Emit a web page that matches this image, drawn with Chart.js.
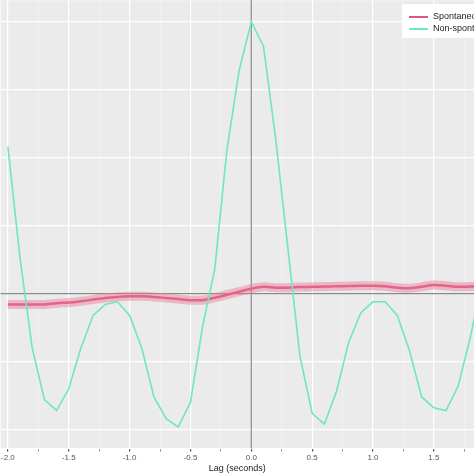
<!DOCTYPE html>
<html><head><meta charset="utf-8">
<script src="https://cdn.jsdelivr.net/npm/chart.js@4"></script>
<style>html,body{margin:0;padding:0;background:#fff}#wrap{width:474px;height:474px}</style>
</head><body><div id="wrap"><canvas id="c"></canvas></div>
<script>
const lags = [-2.0,-1.9,-1.8,-1.7,-1.6,-1.5,-1.4,-1.3,-1.2,-1.1,-1.0,-0.9,-0.8,-0.7,-0.6,-0.5,-0.4,-0.3,-0.2,-0.1,0.0,0.1,0.2,0.3,0.4,0.5,0.6,0.7,0.8,0.9,1.0,1.1,1.2,1.3,1.4,1.5,1.6,1.7,1.8,1.9];
const nonSpont = [0.54,0.13,-0.20,-0.39,-0.43,-0.35,-0.20,-0.08,-0.04,-0.03,-0.08,-0.20,-0.38,-0.46,-0.49,-0.40,-0.12,0.09,0.53,0.82,1.00,0.91,0.57,0.17,-0.23,-0.44,-0.48,-0.36,-0.18,-0.07,-0.03,-0.03,-0.08,-0.21,-0.38,-0.42,-0.43,-0.34,-0.16,0.05];
const spont = [-0.04,-0.04,-0.04,-0.04,-0.035,-0.033,-0.028,-0.022,-0.016,-0.012,-0.01,-0.01,-0.012,-0.016,-0.02,-0.024,-0.024,-0.015,-0.004,0.007,0.018,0.025,0.022,0.022,0.024,0.025,0.026,0.027,0.028,0.029,0.029,0.027,0.022,0.02,0.025,0.032,0.029,0.025,0.026,0.026];
const legendLabels = ["Spontaneous", "Non-spontaneous"];

const pts = (ys) => lags.map((x, i) => ({x: x, y: ys[i]}));
const isMajor = (v) => Math.abs(v * 2 - Math.round(v * 2)) < 1e-6;

const bgPlugin = {
  id: "bg",
  beforeDraw(chart) {
    const {ctx, chartArea: a} = chart;
    ctx.save();
    ctx.fillStyle = "#ebebeb";
    ctx.fillRect(a.left, a.top, a.right - a.left, a.bottom - a.top);
    ctx.restore();
  },
  beforeDatasetsDraw(chart) {
    const {ctx, chartArea: a, scales} = chart;
    const x0 = scales.x.getPixelForValue(0), y0 = scales.y.getPixelForValue(0);
    ctx.save();
    ctx.strokeStyle = "#8a8a8a";
    ctx.lineWidth = 1.2;
    ctx.beginPath();
    ctx.moveTo(x0, a.top); ctx.lineTo(x0, a.bottom);
    ctx.moveTo(a.left, y0); ctx.lineTo(a.right, y0);
    ctx.stroke();
    ctx.restore();
  },
  afterDraw(chart) {
    const ctx = chart.ctx;
    ctx.save();
    ctx.fillStyle = "#fff";
    ctx.fillRect(402, 4, 80, 34);
    ctx.lineWidth = 2;
    ctx.strokeStyle = "#e0557a";
    ctx.beginPath(); ctx.moveTo(409, 17); ctx.lineTo(428, 17); ctx.stroke();
    ctx.strokeStyle = "#6ee6c0";
    ctx.beginPath(); ctx.moveTo(409, 29); ctx.lineTo(428, 29); ctx.stroke();
    ctx.fillStyle = "#222";
    ctx.font = "9px 'Liberation Sans', Arial, sans-serif";
    ctx.textBaseline = "middle";
    ctx.fillText(legendLabels[0], 433, 17);
    ctx.fillText(legendLabels[1], 433, 29);
    ctx.restore();
  }
};

new Chart(document.getElementById("c"), {
  type: "line",
  data: {
    datasets: [
      { label: legendLabels[1], data: pts(nonSpont), borderColor: "#6ee6c0", borderWidth: 1.6, pointRadius: 0, tension: 0 },
      { label: legendLabels[0] + " band", data: pts(spont), borderColor: "rgba(230,120,150,0.45)", borderWidth: 9, pointRadius: 0, tension: 0.3 },
      { label: legendLabels[0], data: pts(spont), borderColor: "#e0557a", borderWidth: 2.5, pointRadius: 0, tension: 0.3 }
    ]
  },
  options: {
    responsive: true,
    maintainAspectRatio: false,
    animation: false,
    layout: { padding: 0 },
    plugins: { legend: { display: false }, tooltip: { enabled: false } },
    scales: {
      x: {
        type: "linear", min: -2.06, max: 1.83,
        afterBuildTicks(s) { const t = []; for (let v = -2; v <= 1.8; v += 0.25) t.push({value: Math.round(v * 100) / 100}); s.ticks = t; },
        grid: { color: (c) => (isMajor(c.tick.value) ? "#ffffff" : "#f3f3f3"), lineWidth: (c) => (isMajor(c.tick.value) ? 1.2 : 0.6), drawTicks: true, tickLength: 3, tickColor: "#444" },
        border: { display: false },
        ticks: {
          autoSkip: false, maxRotation: 0, color: "#555", font: { size: 8, family: "'Liberation Sans', Arial" }, padding: 1,
          callback: (v) => (isMajor(v) ? v.toFixed(1) : "")
        },
        title: { display: true, text: "Lag (seconds)", color: "#222", font: { size: 9, family: "'Liberation Sans', Arial" }, padding: { top: 0, bottom: 0 } }
      },
      y: {
        min: -0.57, max: 1.08,
        ticks: { display: false, stepSize: 0.25 },
        grid: { color: "#ffffff", lineWidth: 1.2, drawTicks: false },
        border: { display: false }
      }
    }
  },
  plugins: [bgPlugin]
});
</script></body></html>
